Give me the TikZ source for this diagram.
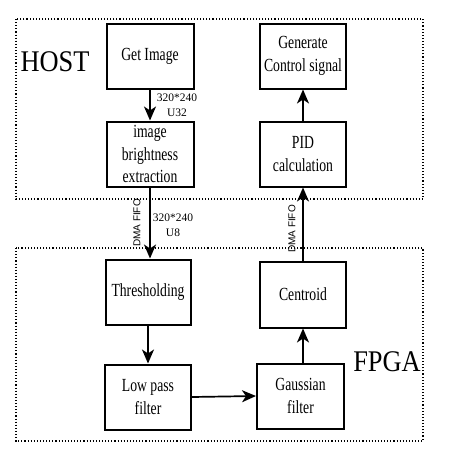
\documentclass[tikz,border=0pt]{standalone}
\usepackage{fontspec}
\setmainfont{Liberation Serif}
\newfontfamily\boxfont{Liberation Serif}[FakeStretch=0.74]
\newfontfamily\bigfont{Liberation Serif}[FakeStretch=0.88]
\newfontfamily\dmafont{Liberation Sans}
\usetikzlibrary{arrows.meta}
\tikzset{
  blockbox/.style={draw, line width=2pt, rectangle, minimum width=87pt, minimum height=65pt, inner sep=0pt, align=center, font=\boxfont\fontsize{18.5}{22.5}\selectfont},
  region/.style={draw, line width=1.1pt, dash pattern=on 1.1pt off 2pt},
  flow/.style={line width=1.7pt, -{Stealth[length=14pt,width=12pt,inset=4pt]}},
  sizelabel/.style={align=center, inner sep=0pt, font=\fontsize{11.5}{15}\selectfont},
  dmalabel/.style={rotate=90, inner sep=0pt, font=\dmafont\fontsize{10}{12}\selectfont},
  arealabel/.style={inner sep=0pt, font=\bigfont\fontsize{30}{34}\selectfont}
}
\begin{document}
\begin{tikzpicture}[x=1pt,y=-1pt]
\useasboundingbox[fill=white] (0,0) rectangle (474,474);
% regions
\draw[region] (16,19) rectangle (423,199);
\draw[region] (16,248) rectangle (423,441);
\node[arealabel] (host) at (55,62) {HOST};
\node[arealabel] (fpga) at (387,362) {FPGA};
% blocks
\node[blockbox] (get) at (150,56) {Get Image};
\node[blockbox] (img) at (150,154) {image\\brightness\\extraction};
\node[blockbox, minimum width=86pt] (gen) at (303,56) {Generate\\Control signal};
\node[blockbox, minimum width=86pt] (pid) at (303,154) {PID\\calculation};
\node[blockbox, minimum width=85pt] (thr) at (148,292) {Thresholding};
\node[blockbox, minimum width=86pt, minimum height=66pt] (cen) at (303,294.5) {Centroid};
\node[blockbox, minimum width=86pt] (low) at (148,397) {Low pass\\filter};
\node[blockbox] (gau) at (300.5,396) {Gaussian\\filter};
% connectors
\draw[flow] (get.south) -- (img.north);
\draw[flow] (img.south) -- (img.south |- thr.north);
\draw[flow] (thr.south) -- (low.north);
\draw[flow] (low.east) -- (gau.west);
\draw[flow] (cen.south |- gau.north) -- (cen.south);
\draw[flow] (cen.north) -- (pid.south);
\draw[flow] (pid.north) -- (gen.south);
% labels
\node[sizelabel] (s1) at (177,105) {320*240\\U32};
\node[sizelabel] (s2) at (173,225) {320*240\\U8};
\node[dmalabel] (d1) at (137,223) {DMA FIFO};
\node[dmalabel] (d2) at (292,229) {DMA FIFO};
\end{tikzpicture}
\end{document}
